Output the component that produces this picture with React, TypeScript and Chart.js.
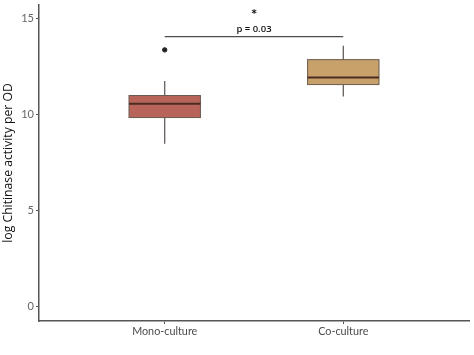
import React, { useEffect, useRef } from "react";
import { Chart, registerables } from "chart.js";
Chart.register(...registerables);

const categories = ["Mono-culture", "Co-culture"];
const categoryPos = [1, 2];
const lowerWhisker = [8.46, 10.93];
const q1 = [9.83, 11.55];
const median = [10.55, 11.92];
const q3 = [10.98, 12.85];
const upperWhisker = [11.74, 13.57];
const outliers = [{ x: 1, y: 13.36 }];
const fills = ["#b9645b", "#c8a069"];
const yTicks = [0, 5, 10, 15];
const bracketY = 14.05;
const pLabel = "p = 0.03";
const starLabel = "*";

const boxPlugin = {
  id: "boxes",
  afterDatasetsDraw(chart: any) {
    const { ctx, scales } = chart;
    const xs = scales.x;
    const ys = scales.y;
    const half = 0.2;
    ctx.save();
    for (let i = 0; i < categoryPos.length; i++) {
      const cx = xs.getPixelForValue(categoryPos[i]);
      const x0 = xs.getPixelForValue(categoryPos[i] - half);
      const x1 = xs.getPixelForValue(categoryPos[i] + half);
      const yq1 = ys.getPixelForValue(q1[i]);
      const yq3 = ys.getPixelForValue(q3[i]);
      const ymed = ys.getPixelForValue(median[i]);
      const ylo = ys.getPixelForValue(lowerWhisker[i]);
      const yhi = ys.getPixelForValue(upperWhisker[i]);
      ctx.strokeStyle = "#5a5350";
      ctx.lineWidth = 1.2;
      ctx.beginPath();
      ctx.moveTo(cx, yq3);
      ctx.lineTo(cx, yhi);
      ctx.moveTo(cx, yq1);
      ctx.lineTo(cx, ylo);
      ctx.stroke();
      ctx.fillStyle = fills[i];
      ctx.fillRect(x0, yq3, x1 - x0, yq1 - yq3);
      ctx.strokeStyle = "#6b5a50";
      ctx.lineWidth = 1;
      ctx.strokeRect(x0, yq3, x1 - x0, yq1 - yq3);
      ctx.strokeStyle = "#4a2c20";
      ctx.lineWidth = 2.2;
      ctx.beginPath();
      ctx.moveTo(x0, ymed);
      ctx.lineTo(x1, ymed);
      ctx.stroke();
    }
    const midX = xs.getPixelForValue((categoryPos[0] + categoryPos[1]) / 2);
    const by = ys.getPixelForValue(bracketY);
    ctx.fillStyle = "#111";
    ctx.textAlign = "center";
    ctx.textBaseline = "alphabetic";
    ctx.font = "600 9.5px 'Open Sans', 'DejaVu Sans', sans-serif";
    ctx.fillText(pLabel, midX, by - 5);
    ctx.font = "bold 10px 'DejaVu Sans', sans-serif";
    ctx.fillText(starLabel, midX, by - 20);
    ctx.restore();
  },
};

export default function App() {
  const ref = useRef<HTMLCanvasElement>(null);
  useEffect(() => {
    document.body.style.margin = "0";
    const chart = new Chart(ref.current!, {
      type: "scatter",
      data: {
        datasets: [
          {
            type: "line",
            data: [
              { x: categoryPos[0], y: bracketY },
              { x: categoryPos[1], y: bracketY },
            ],
            borderColor: "#4d4d4d",
            borderWidth: 1.4,
            pointRadius: 0,
          } as any,
          {
            data: outliers,
            backgroundColor: "#222",
            borderColor: "#222",
            pointRadius: 2.2,
          },
        ],
      },
      options: {
        animation: false,
        responsive: false,
        events: [],
        layout: { padding: { top: 5, right: 4, left: 0, bottom: 0 } },
        plugins: { legend: { display: false }, tooltip: { enabled: false } },
        scales: {
          x: {
            type: "linear",
            min: 0.296,
            max: 2.704,
            afterBuildTicks: (s: any) => {
              s.ticks = categoryPos.map((v) => ({ value: v }));
            },
            afterFit: (s: any) => {
              s.height = 34;
              s.paddingLeft = 0;
              s.paddingRight = 0;
            },
            ticks: {
              callback: (v: any) => categories[categoryPos.indexOf(Number(v))] ?? "",
              color: "#4a4a4a",
              font: { family: "Lato, 'DejaVu Sans', sans-serif", size: 10.8 },
              padding: 1,
              maxRotation: 0,
            },
            grid: { display: true, drawOnChartArea: false, drawTicks: true, tickLength: 3, color: "#555" },
            border: { display: true, color: "#555", width: 1.5 },
          },
          y: {
            min: -0.78,
            max: 15.7,
            afterBuildTicks: (s: any) => {
              s.ticks = yTicks.map((v) => ({ value: v }));
            },
            afterFit: (s: any) => {
              s.width = 39;
              s.paddingTop = 0;
              s.paddingBottom = 0;
            },
            ticks: {
              color: "#666",
              font: { family: "Lato, 'DejaVu Sans', sans-serif", size: 11 },
              padding: 2,
            },
            title: {
              display: true,
              text: "log Chitinase activity per OD",
              color: "#111",
              font: { family: "'Open Sans', 'DejaVu Sans', sans-serif", size: 12.2 },
              padding: { top: 1, bottom: 4 },
            },
            grid: { display: true, drawOnChartArea: false, drawTicks: true, tickLength: 3, color: "#555" },
            border: { display: true, color: "#555", width: 1.5 },
          },
        },
      },
      plugins: [boxPlugin],
    });
    return () => chart.destroy();
  }, []);
  return <canvas ref={ref} width={474} height={355} style={{ display: "block" }} />;
}
